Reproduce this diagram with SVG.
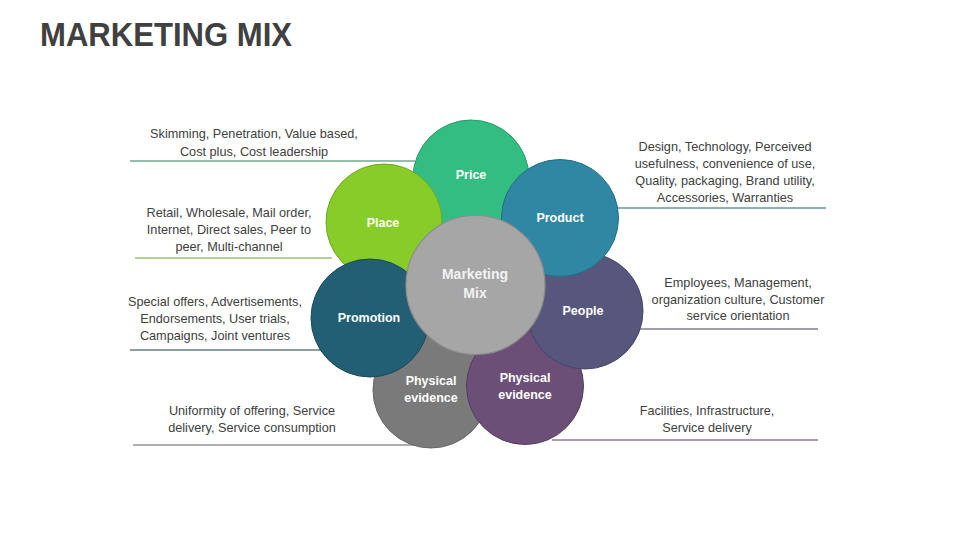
<svg xmlns="http://www.w3.org/2000/svg" width="960" height="540" viewBox="0 0 960 540">
<style>
.desc{font-family:"Liberation Sans","Noto Sans",sans-serif;font-size:12.7px;fill:#404040;text-anchor:middle}
.lbl{font-family:"Liberation Sans","Noto Sans",sans-serif;font-size:12.5px;font-weight:bold;fill:#ffffff;text-anchor:middle}
.ctr{font-family:"Liberation Sans","Noto Sans",sans-serif;font-size:14px;font-weight:bold;fill:#f2f2f2;text-anchor:middle}
.ln{stroke-width:1.2;fill:none}
</style>
<rect width="960" height="540" fill="#ffffff"/>
<text x="40" y="46" font-family="Liberation Sans, sans-serif" font-weight="bold" font-size="34" fill="#404040" textLength="252" lengthAdjust="spacingAndGlyphs">MARKETING MIX</text>

<g id="connectors">
<line class="ln" x1="130" y1="161" x2="415" y2="161" stroke="#2e7d58"/>
<line class="ln" x1="135" y1="258" x2="332" y2="258" stroke="#6aaa1e"/>
<line class="ln" x1="130" y1="350" x2="322" y2="350" stroke="#1f3a4a"/>
<line class="ln" x1="133" y1="445" x2="420" y2="445" stroke="#5e5e5e"/>
<line class="ln" x1="618" y1="208" x2="826" y2="208" stroke="#1f6278"/>
<line class="ln" x1="640" y1="329" x2="818" y2="329" stroke="#3c3c58"/>
<line class="ln" x1="552" y1="440" x2="818" y2="440" stroke="#50385a"/>
</g>

<g id="price">
<circle cx="471" cy="178" r="58" fill="#34bd82" stroke="#2a9a6a" stroke-width="1"/>
<text class="lbl" x="471" y="179">Price</text>
<text class="desc" x="254" y="138">Skimming, Penetration, Value based,</text>
<text class="desc" x="254" y="156">Cost plus, Cost leadership</text>
</g>
<g id="physical-evidence-1">
<circle cx="431" cy="390" r="58" fill="#7a7a7a" stroke="#666666" stroke-width="1"/>
<text class="lbl" x="431" y="385">Physical</text>
<text class="lbl" x="431" y="402">evidence</text>
<text class="desc" x="252" y="415">Uniformity of offering, Service</text>
<text class="desc" x="252" y="432">delivery, Service consumption</text>
</g>
<g id="place">
<circle cx="384" cy="222" r="58" fill="#88cc29" stroke="#6fa820" stroke-width="1"/>
<text class="lbl" x="383" y="227">Place</text>
<text class="desc" x="229" y="217">Retail, Wholesale, Mail order,</text>
<text class="desc" x="229" y="234">Internet, Direct sales, Peer to</text>
<text class="desc" x="229" y="251">peer, Multi-channel</text>
</g>
<g id="promotion">
<circle cx="370" cy="318" r="59" fill="#225e74" stroke="#1a4a5c" stroke-width="1"/>
<text class="lbl" x="369" y="322">Promotion</text>
<text class="desc" x="215" y="306">Special offers, Advertisements,</text>
<text class="desc" x="215" y="323">Endorsements, User trials,</text>
<text class="desc" x="215" y="340">Campaigns, Joint ventures</text>
</g>
<g id="physical-evidence-2">
<circle cx="525" cy="386" r="58.5" fill="#6b4f76" stroke="#553e5e" stroke-width="1"/>
<text class="lbl" x="525" y="382">Physical</text>
<text class="lbl" x="525" y="399">evidence</text>
<text class="desc" x="707" y="415">Facilities, Infrastructure,</text>
<text class="desc" x="707" y="432">Service delivery</text>
</g>
<g id="people">
<circle cx="585" cy="311" r="58" fill="#57577d" stroke="#45456a" stroke-width="1"/>
<text class="lbl" x="583" y="315">People</text>
<text class="desc" x="738" y="287">Employees, Management,</text>
<text class="desc" x="738" y="304">organization culture, Customer</text>
<text class="desc" x="738" y="320">service orientation</text>
</g>
<g id="product">
<circle cx="560" cy="218" r="58.5" fill="#2f87a3" stroke="#256d85" stroke-width="1"/>
<text class="lbl" x="560" y="222">Product</text>
<text class="desc" x="725" y="151">Design, Technology, Perceived</text>
<text class="desc" x="725" y="168">usefulness, convenience of use,</text>
<text class="desc" x="725" y="185">Quality, packaging, Brand utility,</text>
<text class="desc" x="725" y="202">Accessories, Warranties</text>
</g>
<g id="marketing-mix">
<circle cx="475.5" cy="285" r="69.5" fill="#a6a6a6" stroke="#8c8c8c" stroke-width="1.2"/>
<text class="ctr" x="475" y="279">Marketing</text>
<text class="ctr" x="475" y="298">Mix</text>
</g>
</svg>
